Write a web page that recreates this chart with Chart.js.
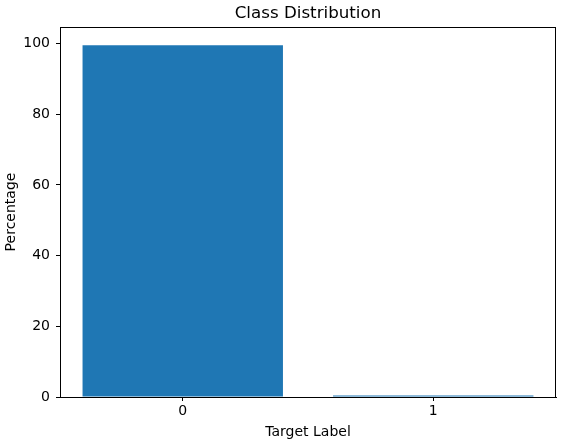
<!DOCTYPE html>
<html>
<head>
<meta charset="utf-8">
<script src="https://cdn.jsdelivr.net/npm/chart.js@4"></script>
<style>
  html, body { margin: 0; padding: 0; background: #fff; }
  #wrap { width: 563px; height: 442px; }
</style>
</head>
<body>
<div id="wrap"><canvas id="chart"></canvas></div>
<script>
// class labels and their share in percent
const classes = [0, 1];
const percentages = [99.57, 0.43];
const yTicks = [0, 20, 40, 60, 80, 100];
const chartTitle = "Class Distribution";

const font = "'DejaVu Sans', sans-serif";

// matplotlib-like box around the plot area, title centred over the axes
const frame = {
  id: "frame",
  afterDatasetsDraw(chart) {
    const a = chart.chartArea, c = chart.ctx;
    c.save();
    c.strokeStyle = "#000";
    c.lineWidth = 1;
    c.strokeRect(a.left + 0.5, a.top + 0.5, a.right - a.left - 1, a.bottom - a.top);
    c.fillStyle = "#000";
    c.font = "16.7px " + font;
    c.textAlign = "center";
    c.textBaseline = "middle";
    c.fillText(chartTitle, (a.left + a.right) / 2, 14);
    c.restore();
  }
};

const ctx = document.getElementById("chart");
new Chart(ctx, {
  type: "bar",
  data: {
    datasets: [{
      label: "Percentage",
      data: classes.map((c, i) => ({ x: c, y: percentages[i] })),
      backgroundColor: "#1f77b4",
      hoverBackgroundColor: "#1f77b4",
      borderWidth: 0,
      inflateAmount: 0,
      barPercentage: 0.8,
      categoryPercentage: 1.0
    }]
  },
  options: {
    responsive: true,
    maintainAspectRatio: false,
    animation: false,
    events: [],
    layout: { padding: { top: 27, right: 7, bottom: 0, left: 0 } },
    plugins: {
      legend: { display: false },
      tooltip: { enabled: false },
      title: { display: false }
    },
    scales: {
      x: {
        type: "linear",
        offset: false,
        min: -0.49,
        max: 1.49,
        afterBuildTicks: s => { s.ticks = classes.map(v => ({ value: v })); },
        afterFit: s => { s.height = 45; },
        ticks: { color: "#000", font: { family: font, size: 14 }, padding: 2 },
        grid: { offset: false, drawOnChartArea: false, drawTicks: true, tickLength: 4, tickColor: "#000" },
        border: { display: true, color: "#000" },
        title: { display: true, text: "Target Label", color: "#000", font: { family: font, size: 14 }, padding: { top: 0, bottom: 1 } }
      },
      y: {
        min: 0,
        max: 104.7,
        afterBuildTicks: s => { s.ticks = yTicks.map(v => ({ value: v })); },
        afterFit: s => { s.width = 60; },
        ticks: { color: "#000", font: { family: font, size: 14 }, padding: 6 },
        grid: { drawOnChartArea: false, drawTicks: true, tickLength: 4, tickColor: "#000" },
        border: { display: true, color: "#000" },
        title: { display: true, text: "Percentage", color: "#000", font: { family: font, size: 14 }, padding: { top: 3, bottom: 0 } }
      }
    }
  },
  plugins: [frame]
});
</script>
</body>
</html>
